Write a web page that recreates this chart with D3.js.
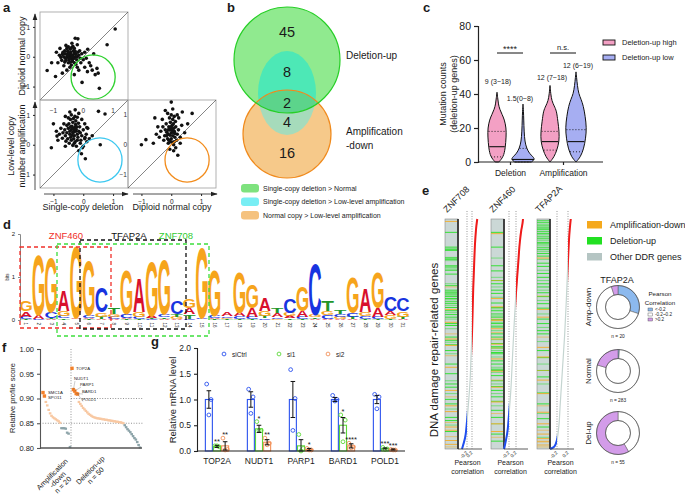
<!DOCTYPE html>
<html><head><meta charset="utf-8">
<script src="https://cdn.jsdelivr.net/npm/d3@7"></script>
<style>body{margin:0;background:#fff}svg{display:block;font-family:"Liberation Sans",Arial,Helvetica,sans-serif}</style>
</head><body><svg id="c" width="685" height="495"></svg>
<script>
// ================= DATA =================
// panel a: scatter clouds [x, y]
const aDelNormal=[[-0.45,0.02],[-0.5,0.08],[-0.4,-0.03],[-0.35,0.05],[-0.55,-0.02],[-0.6,0.1],[-0.3,0.12],[-0.42,0.15],[-0.48,-0.1],[-0.38,-0.08],[-0.52,0.18],[-0.28,-0.02],[-0.65,0.0],[-0.33,0.2],[-0.44,0.25],[-0.58,-0.12],[-0.25,0.08],[-0.5,-0.2],[-0.36,-0.15],[-0.62,0.2],[-0.7,0.08],[-0.2,0.0],[-0.4,0.3],[-0.55,0.28],[-0.3,-0.2],[-0.46,-0.05],[-0.42,0.07],[-0.37,0.0],[-0.53,0.04],[-0.47,0.12],[-0.32,-0.06],[-0.6,-0.05],[-0.27,0.18],[-0.22,-0.1],[-0.75,-0.02],[-0.68,0.15],[-0.15,0.05],[-0.43,-0.18],[-0.35,0.35],[-0.5,0.33],[-0.18,0.15],[-0.62,-0.18],[-0.72,-0.12],[-0.25,-0.25],[-0.4,-0.28],[-0.1,-0.05],[-0.8,0.05],[-0.12,0.2],[-0.3,0.28],[-0.58,0.38],[-0.05,0.1],[0.0,-0.1],[0.05,0.15],[-0.08,-0.2],[0.1,-0.05],[-0.2,-0.35],[-0.45,-0.35],[-0.65,-0.3],[-0.85,-0.2],[-0.9,0.15],[-0.78,0.28],[-0.2,0.4],[-0.38,0.45],[-0.27,0.62],[-0.18,0.6],[0.15,0.25],[0.2,-0.2],[0.05,-0.35],[-0.15,-0.45],[-0.55,-0.45],[1.07,0.93],[0.8,0.4],[0.46,-0.39],[0.14,-0.5],[0.5,-0.55],[0.3,-0.45],[-0.04,-0.86],[0.54,-1.06],[-1.21,-0.46],[-0.93,-0.66],[-1.06,-0.2],[-0.7,-0.55],[0.25,-0.3],[0.35,0.1],[0.4,-0.6],[-0.3,-0.6]];
const aDelAmp=[[-0.35,0.4],[-0.4,0.5],[-0.3,0.3],[-0.45,0.35],[-0.25,0.45],[-0.5,0.55],[-0.38,0.62],[-0.28,0.58],[-0.55,0.4],[-0.42,0.25],[-0.32,0.2],[-0.2,0.35],[-0.6,0.3],[-0.48,0.7],[-0.35,0.75],[-0.22,0.6],[-0.15,0.45],[-0.62,0.5],[-0.4,0.15],[-0.27,0.1],[-0.52,0.2],[-0.3,0.5],[-0.45,0.45],[-0.37,0.32],[-0.33,0.88],[-0.25,0.8],[-0.18,0.25],[-0.1,0.4],[-0.68,0.4],[-0.55,0.65],[-0.43,0.85],[-0.3,0.05],[-0.2,0.15],[-0.12,0.6],[-0.7,0.22],[-0.58,0.12],[-0.47,0.05],[-0.36,0.55],[-0.26,0.68],[-0.16,0.72],[-0.05,0.3],[-0.08,0.15],[-0.75,0.55],[-0.65,0.7],[-0.28,0.95],[-0.4,1.0],[-0.2,0.92],[-0.5,0.9],[-0.1,0.05],[-0.35,-0.02],[-0.8,0.35],[-0.9,0.45],[-0.85,0.15],[0.0,0.5],[0.05,0.2],[0.1,0.35],[0.15,0.55],[0.05,0.7],[-0.05,0.85],[-0.6,0.95],[-0.27,1.17],[-0.15,1.05],[-0.45,1.1],[-0.03,-0.1],[-0.23,-0.05],[-0.15,-0.2],[0.0,-0.05],[0.12,0.1],[0.2,0.2],[-0.6,-0.05],[-1.07,-0.1],[-0.88,0.29],[0.57,0.0],[0.12,0.58],[0.51,1.12],[0.73,1.03],[0.06,0.24],[-0.06,-0.3],[0.07,-0.47],[0.3,0.3],[-1.0,0.7],[-0.42,0.6],[-0.33,0.42],[-0.24,0.52]];
const aNormAmp=[[0,0.4],[-0.05,0.5],[0.05,0.3],[-0.1,0.35],[0.1,0.45],[-0.08,0.6],[0.03,0.65],[0.12,0.25],[-0.15,0.42],[0.0,0.2],[-0.03,0.75],[0.08,0.55],[-0.12,0.2],[0.15,0.6],[-0.2,0.5],[0.05,0.85],[-0.06,0.9],[0.1,0.1],[-0.1,0.05],[0.2,0.35],[-0.22,0.3],[0.02,0.5],[-0.04,0.32],[0.06,0.42],[-0.17,0.7],[0.14,0.78],[0.0,1.0],[-0.12,1.05],[0.08,0.0],[-0.02,0.1],[0.18,0.15],[-0.25,0.15],[0.24,0.5],[-0.28,0.6],[0.1,0.95],[-0.08,0.15],[0.0,0.6],[-0.1,0.5],[0.07,0.7],[0.12,0.38],[-0.35,0.45],[-0.4,0.25],[0.3,0.25],[0.35,0.65],[-0.3,0.85],[0.2,1.0],[0.25,0.9],[-0.2,1.15],[0.05,1.2],[-0.05,-0.15],[0.15,-0.1],[0.3,0.05],[-0.45,0.6],[-0.5,0.35],[0.0,1.43],[-1.0,0.0],[-0.85,0.17],[0.37,1.1],[0.7,1.05],[0.08,-0.2],[0.22,-0.35],[-0.6,0.05],[0.45,0.4],[-0.55,0.9],[0.55,0.7],[-0.16,0.3],[0.04,0.08],[-0.02,0.55]];
const aCircles=[[0.33,-0.68,0.74],[0.56,-0.51,0.74],[0.53,-0.51,0.74]];
const aTicks=[-1,0,1];
// panel b
const vennCounts=[45,8,2,4,16];
const vennSets=['Deletion-up','Amplification','-down'];
const vennLegend=['Single-copy deletion > Normal','Single-copy deletion > Low-level amplification','Normal copy > Low-level amplification'];
// panel c
const cGroups=['Deletion','Amplification'];
const cSeries=['Deletion-up high','Deletion-up low'];
const cTicks=[0,20,40,60,80];
const violinDelHigh=[[0,0.2],[3,0.7],[8,0.9],[15,1.0],[20,1.0],[25,0.8],[28,0.55],[31,0.3],[34,0.15],[38,0.07],[41,0]];
const violinDelLow=[[0,0.9],[1.5,1.3],[3,1.1],[5,0.7],[8,0.4],[12,0.2],[18,0.12],[25,0.08],[30,0.05],[34,0]];
const violinAmpHigh=[[0,0],[3,0.45],[7,0.75],[12,1.0],[18,1.0],[24,0.85],[30,0.72],[33,0.45],[36,0.2],[40,0.08],[45,0]];
const violinAmpLow=[[0,0],[3,0.5],[8,0.85],[14,1.05],[20,1.15],[27,1.0],[33,0.8],[37,0.55],[40,0.3],[45,0.15],[50,0.06],[53,0]];
const violinMed=[9,1.5,12,12], violinQ1=[3,0,7,6], violinQ3=[18,8,18,19];
const violinNotes=['9 (3~18)','1.5(0~8)','12 (7~18)','12 (6~19)'];
const sigLabels=['****','n.s.'];
// panel d: sequence logo (bits per letter, positions 1..31)
const logoG=[0.25,1.42,1.3,0.12,1.7,1.3,0.1,0.05,1.05,0.12,1.3,1.3,0.05,0.2,1.68,1.08,0.03,0.95,0.55,0.12,0.03,0.08,0.6,0.05,0.1,0.05,0.85,0.1,0.85,0.08,0.12];
const logoA=[0.12,0.08,0.02,0.5,0.02,0.03,0.03,0.03,0.03,0.8,0.05,0.02,0.03,0.15,0.01,0.03,0.1,0.08,0.2,0.3,0.1,0.05,0.15,0.02,0.03,0.03,0.03,0.55,0.2,0.1,0.03];
const logoC=[0.05,0.02,0.15,0.05,0.01,0.06,0.58,0.05,0.1,0.05,0.02,0.07,0.32,0.03,0.03,0.05,0.04,0.06,0.05,0.04,0.04,0.35,0.05,1.2,0.08,0.07,0.08,0.06,0.05,0.35,0.3];
const logoT=[0.03,0.01,0.02,0.04,0.01,0.02,0.05,0.15,0.02,0.02,0.03,0.04,0.06,0.1,0.01,0.02,0.02,0.03,0.02,0.05,0.12,0.04,0.02,0.04,0.25,0.1,0.05,0.03,0.02,0.03,0.05];
const motifNames=['ZNF460','TFAP2A','ZNF708'];
// panel e
const eTFs=['ZNF708','ZNF460','TFAP2A'];
const eNGenes=358;
const eGreen=[
 [20,43,45,47,48,59,60,62,64,72,74,77,79,85,100,103,110,112,114,116,118,120,123,125,128,131,134,137,142,145,148,152,155,162,165,170,183,188,191,195,204,209,225,240,251,256,261,271,280,287,295,308,313,320,330],
 [20,43,60,72,80,90,95,100,105,110,115,121,130,137,139,142,147,150,152,156,160,162,166,173,178,183,187,193,198,204,207,209,214,220,225,230,233,235,238,243,251,256,260,266,271,276,283,290,297,308,318,334,345,168,200],
 [2,5,8,10,13,16,19,22,24,27,30,33,36,38,41,44,47,50,53,57,62,68,73,79,84,90,95,100,105,110,114,120,126,131,138,147,155,162,168,173,178,190,204,215,225,235,245,256,270,287,302,310,323,339,15]];
const eOrange=[
 [3,105,140,160,178,186,196,212,230,266,276,290,299,316,323,328,338,344,350,354],
 [22,95,123,136,155,157,170,176,186,194,200,217,236,250,261,284,302,318,330,339],
 [60,119,140,152,183,199,214,235,250,271,290,300,318,328,334,341,345,346,351,354]];
// correlation curves [rank fraction, Pearson r]
const eCurves=[
 [[0,0.62],[0.03,0.55],[0.1,0.45],[0.2,0.37],[0.3,0.3],[0.4,0.25],[0.5,0.2],[0.6,0.12],[0.7,0.05],[0.8,-0.08],[0.88,-0.2],[0.95,-0.35],[1,-0.6]],
 [[0,0.6],[0.02,0.57],[0.05,0.5],[0.1,0.42],[0.2,0.32],[0.32,0.2],[0.45,0.1],[0.6,0.0],[0.75,-0.1],[0.85,-0.2],[0.93,-0.3],[1,-0.48]],
 [[0,0.3],[0.05,0.26],[0.18,0.2],[0.35,0.14],[0.5,0.08],[0.65,0.0],[0.8,-0.08],[0.92,-0.15],[0.96,-0.2],[0.99,-0.3],[1,-0.45]]];
const eLegend=['Amplification-down','Deletion-up','Other DDR genes'];
const pieGroups=['Amp-down','Normal','Del-up'];
const pieCounts=[[6,13,1],[3,222,58],[0,23,32]]; // <-0.2, -0.2~0.2, >0.2
const pieN=['n = 20','n = 283','n = 55'];
const pieLegend=['<-0.2','-0.2~0.2','>0.2'];
// panel f
const fAmpScores=[0.912,0.905,0.893,0.886,0.877,0.870,0.865,0.862,0.860,0.858,0.856,0.854,0.851,0.840,0.840,0.840,0.839,0.831,0.829,0.802];
const fDelScores=[0.961,0.918,0.915,0.910,0.909,0.893,0.889,0.885,0.881,0.878,0.875,0.872,0.869,0.867,0.865,0.863,0.862,0.861,0.860,0.860,0.859,0.859,0.858,0.858,0.857,0.857,0.856,0.856,0.855,0.855,0.854,0.854,0.853,0.853,0.852,0.852,0.851,0.850,0.846,0.842,0.838,0.835,0.832,0.828,0.824,0.820,0.817,0.812,0.806,0.801];
const fAmpNames=['SMC1A','SPO11'];
const fDelNames=['TOP2A','NUDT1','PARP1','BARD1','POLD1'];
const fTicks=[0.80,0.85,0.90,0.95,1.00];
// panel g
const gGenes=['TOP2A','NUDT1','PARP1','BARD1','POLD1'];
const gSeries=['siCtrl','si1','si2'];
const gMean=[[1.0,0.09,0.1],[1.0,0.43,0.17],[1.0,0.1,0.03],[1.0,0.5,0.1],[1.0,0.05,0.03]];
const gSem=[[0.17,0.02,0.08],[0.15,0.07,0.05],[0.35,0.12,0.02],[0.04,0.15,0.04],[0.08,0.01,0.01]];
const gPts=[[[1.3,1.0,0.7],[0.1,0.08,0.1],[0.25,0.03,0.02]],[[1.2,1.05,0.73],[0.57,0.4,0.4],[0.25,0.15,0.12]],[[1.58,1.02,0.4],[0.32,0.05,0.0],[0.05,0.02,0.02]],[[1.08,1.0,0.97],[0.7,0.6,0.18],[0.15,0.08,0.06]],[[1.1,1.05,0.82],[0.07,0.04,0.03],[0.03,0.02,0.02]]];
const gStars=[['','**','**'],['','*','**'],['','','*'],['','*','****'],['','***','***']];
const gTicks=[0,0.5,1,1.5,2];

// ================= DRAW =================
const svg=d3.select('#c');
const defs=svg.append('defs');
defs.append('marker').attr('id','arr').attr('viewBox','0 0 10 10').attr('refX',9).attr('refY',5)
 .attr('markerWidth',7).attr('markerHeight',7).attr('markerUnits','userSpaceOnUse').attr('orient','auto')
 .append('path').attr('d','M0,1.5L10,5L0,8.5z').attr('fill','#222');
function T(g,x,y,s,fs,o={}){
 const t=g.append('text').attr('x',x).attr('y',y).text(s).attr('font-size',fs).attr('fill',o.fill||'#1a1a1a').attr('text-anchor',o.anchor||'start');
 if(o.fw)t.attr('font-weight',o.fw);
 if(o.rot!=null)t.attr('transform',`rotate(${o.rot},${x},${y})`);
 return t;}
function styleAxis(g,fs){g.attr('font-family',null);g.selectAll('text').attr('font-size',fs).attr('fill','#1a1a1a');g.selectAll('line,path').attr('stroke','#222');}
[['a',3,12],['b',227,12],['c',423,12],['d',3,229],['e',422,195],['f',2,352],['g',151,346]].forEach(d=>T(svg,d[1],d[2],d[0],13,{fw:'bold'}));

// ---- panel a ----
(function(){
 const dom=[-1.45,1.5],W=88;
 const cfg=[{pts:aDelNormal,x0:40,y0:12,col:'#2fd12f'},{pts:aDelAmp,x0:40,y0:100,col:'#3cc8f0'},{pts:aNormAmp,x0:128,y0:100,col:'#f28c1c'}];
 const sc=cfg.map(p=>({x:d3.scaleLinear().domain(dom).range([p.x0,p.x0+W]),y:d3.scaleLinear().domain(dom).range([p.y0+W,p.y0])}));
 cfg.forEach((p,i)=>{
  const {x,y}=sc[i];const g=svg.append('g');
  g.append('rect').attr('x',p.x0).attr('y',p.y0).attr('width',W).attr('height',W).attr('fill','none').attr('stroke','#a8a8a8').attr('stroke-width',0.9);
  g.append('line').attr('x1',x(dom[0])).attr('y1',y(dom[0])).attr('x2',x(dom[1])).attr('y2',y(dom[1])).attr('stroke','#333').attr('stroke-width',0.6);
  g.selectAll('circle.p').data(p.pts).join('circle').attr('cx',d=>x(d[0])).attr('cy',d=>y(d[1])).attr('r',1.8).attr('fill','#111');
  const c=aCircles[i];
  g.append('circle').attr('cx',x(c[0])).attr('cy',y(c[1])).attr('r',x(c[0]+c[2])-x(c[0])).attr('fill','none').attr('stroke',p.col).attr('stroke-width',1.3);
 });
 [[0,100,14],[1,190,102]].forEach(([i,yb,yt])=>{
  const g=svg.append('g').attr('transform','translate(35,0)').call(d3.axisLeft(sc[i].y).tickValues(aTicks).tickSize(2).tickFormat(d3.format('d')));
  g.select('.domain').remove();styleAxis(g,6.5);
  svg.append('line').attr('x1',35).attr('x2',35).attr('y1',yb).attr('y2',yt).attr('stroke','#222').attr('stroke-width',0.8).attr('marker-end','url(#arr)');
 });
 [[1,44,128],[2,133,217]].forEach(([i,xl,xr])=>{
  const g=svg.append('g').attr('transform','translate(0,194)').call(d3.axisBottom(sc[i].x).tickValues(aTicks).tickSize(2).tickFormat(d3.format('d')));
  g.select('.domain').remove();styleAxis(g,6.5);
  svg.append('line').attr('x1',xl).attr('x2',xr).attr('y1',194).attr('y2',194).attr('stroke','#222').attr('stroke-width',0.8).attr('marker-end','url(#arr)');
 });
 aTicks.forEach(v=>{T(svg,sc[0].x(v),113,d3.format('d')(v),6.5,{anchor:'middle',fill:'#333'});
  T(svg,127,sc[2].y(v)+2.3,d3.format('d')(v),6.5,{anchor:'end',fill:'#333'});});
 T(svg,83,210,'Single-copy deletion',9,{anchor:'middle'});
 T(svg,172,210,'Diploid normal copy',9,{anchor:'middle'});
 T(svg,25,56,'Diploid normal copy',9,{anchor:'middle',rot:-90});
 T(svg,14,146,'Low-level copy',9,{anchor:'middle',rot:-90});
 T(svg,25,146,'number amplification',9,{anchor:'middle',rot:-90});
})();

// ---- panel b ----
(function(){
 const g=svg.append('g');
 const G={cx:287,cy:60,r:53},O={cx:287,cy:134,r:44},E={cx:287,cy:93,rx:29,ry:42};
 defs.append('clipPath').attr('id','clipG').append('circle').attr('cx',G.cx).attr('cy',G.cy).attr('r',G.r);
 defs.append('clipPath').attr('id','clipO').append('circle').attr('cx',O.cx).attr('cy',O.cy).attr('r',O.r);
 g.append('circle').attr('cx',G.cx).attr('cy',G.cy).attr('r',G.r).attr('fill','#90ea8f');
 g.append('circle').attr('cx',O.cx).attr('cy',O.cy).attr('r',O.r).attr('fill','#f6c98a');
 g.append('g').attr('clip-path','url(#clipG)').append('circle').attr('cx',O.cx).attr('cy',O.cy).attr('r',O.r).attr('fill','#64d38c');
 const ell=(fill,clip)=>g.append('g').attr('clip-path',clip).append('ellipse').attr('cx',E.cx).attr('cy',E.cy).attr('rx',E.rx).attr('ry',E.ry).attr('fill',fill);
 ell('#4de8b6','url(#clipG)');ell('#a6dbbb','url(#clipO)');
 g.append('g').attr('clip-path','url(#clipG)').append('g').attr('clip-path','url(#clipO)').append('ellipse').attr('cx',E.cx).attr('cy',E.cy).attr('rx',E.rx).attr('ry',E.ry).attr('fill','#5cd48b');
 g.append('circle').attr('cx',O.cx).attr('cy',O.cy).attr('r',O.r).attr('fill','none').attr('stroke','#f08a1c').attr('stroke-width',1.2);
 g.append('circle').attr('cx',G.cx).attr('cy',G.cy).attr('r',G.r).attr('fill','none').attr('stroke','#26cf26').attr('stroke-width',1.2);
 const ys=[37,77,108,127,158];
 vennCounts.forEach((v,i)=>T(g,287,ys[i],v,14.5,{anchor:'middle'}));
 T(g,346,59,vennSets[0],10);T(g,346,135,vennSets[1],10);T(g,346,149,vennSets[2],10);
 const lc=['#7ee27e','#78eef4','#f5c27e'];
 vennLegend.forEach((s,i)=>{const y=184+i*13.5;
  g.append('rect').attr('x',241).attr('y',y).attr('width',18).attr('height',8.5).attr('rx',3).attr('fill',lc[i]);
  T(g,263,y+6.5,s,7);});
})();

// ---- panel c ----
(function(){
 const g=svg.append('g');
 const y=d3.scaleLinear().domain([0,80]).range([162,26]);
 const gx=d3.scalePoint().domain(cGroups).range([510,563]);
 const cols=['#f3a0c4','#a6aef2'];
 const prof=[violinDelHigh,violinDelLow,violinAmpHigh,violinAmpLow];
 const xs=[gx('Deletion')-13,gx('Deletion')+13,gx('Amplification')-13,gx('Amplification')+13];
 const HW=9.2;
 const area=d3.area().y(d=>y(d[0])).curve(d3.curveBasis);
 function hw(p,v){for(let i=1;i<p.length;i++){if(v<=p[i][0]){const t=(v-p[i-1][0])/(p[i][0]-p[i-1][0]);return p[i-1][1]+t*(p[i][1]-p[i-1][1]);}}return 0;}
 prof.forEach((p,i)=>{const cx=xs[i];
  g.append('path').datum(p).attr('d',area.x0(d=>cx-HW*d[1]).x1(d=>cx+HW*d[1])).attr('fill',cols[i%2]).attr('stroke','#111').attr('stroke-width',1);
  const ln=(v,dash,w)=>{const h=hw(p,v)*HW*0.92;g.append('line').attr('x1',cx-h).attr('x2',cx+h).attr('y1',y(v)).attr('y2',y(v)).attr('stroke','#111').attr('stroke-width',w).attr('stroke-dasharray',dash);};
  ln(violinMed[i],null,1.1);ln(violinQ1[i],'1,2',0.9);ln(violinQ3[i],'1,2',0.9);
 });
 const ax=g.append('g').attr('transform','translate(478,0)').call(d3.axisLeft(y).tickValues(cTicks).tickSize(4));
 styleAxis(ax,10.5);ax.selectAll('line,path').attr('stroke-width',1.2);
 const bx=g.append('g').attr('transform','translate(0,162)').call(d3.axisBottom(gx).tickSize(3));
 styleAxis(bx,8.5);bx.select('.domain').attr('d','M478,0H603');bx.selectAll('line,path').attr('stroke-width',1.2);bx.selectAll('text').attr('dy','0.95em');
 T(g,446,94,'Mutation counts',9,{anchor:'middle',rot:-90});
 T(g,457,94,'(deletion-up genes)',9,{anchor:'middle',rot:-90});
 const ny=[84,101,80,68];const nx=[xs[0]+1,xs[1]-3,xs[2]+2,xs[3]+2];
 violinNotes.forEach((s,i)=>T(g,nx[i],ny[i],s,7,{anchor:'middle'}));
 [[0,1],[2,3]].forEach((pr,k)=>{g.append('line').attr('x1',xs[pr[0]]).attr('x2',xs[pr[1]]).attr('y1',53).attr('y2',53).attr('stroke','#111').attr('stroke-width',1);
  T(g,(xs[pr[0]]+xs[pr[1]])/2,k?50:52,sigLabels[k],k?7.5:9,{anchor:'middle'});});
 cSeries.forEach((s,i)=>{const yy=40+i*15;
  g.append('rect').attr('x',603).attr('y',yy).attr('width',12).attr('height',5).attr('fill',cols[i]).attr('stroke','#111').attr('stroke-width',0.9);
  T(g,622,yy+5,s,7.5);});
})();

// ---- panel d ----
(function(){
 const g=svg.append('g');
 const x=d3.scaleLinear().domain([1,31]).range([26,403]);
 const y=d3.scaleLinear().domain([0,2]).range([320,234]);
 const col={A:'#d8102c',C:'#1834e0',G:'#f6a41c',T:'#22962a'};
 const gw={A:0.72,C:0.66,G:0.70,T:0.60};
 const L={A:logoA,C:logoC,G:logoG,T:logoT};
 const W=12.2;
 for(let p=0;p<31;p++){
  const st=['A','C','G','T'].map(k=>({k,v:L[k][p]})).sort((a,b)=>a.v-b.v);
  let base=0;
  st.forEach(s=>{const h=y(base)-y(base+s.v);
   if(h>0.8){g.append('text').attr('text-anchor','middle').attr('font-size',100).attr('font-weight','bold').attr('fill',col[s.k])
    .attr('transform',`translate(${x(p+1)},${y(base)}) scale(${W/(gw[s.k]*100)},${h/72})`).text(s.k);}
   base+=s.v;});
  T(g,x(p+1)-1.6,322.5,String(p+1),4.5,{anchor:'start',rot:90});
 }
 const ax=g.append('g').attr('transform','translate(20,0)').call(d3.axisLeft(y).tickValues([0,1,2]).tickSize(2).tickFormat(d3.format('d')));
 styleAxis(ax,6);ax.selectAll('line,path').attr('stroke','#888');
 T(g,9,277,'bits',4.5,{anchor:'middle',rot:-90});
 const cols=['#f0302a','#111','#3cde3c'];
 const boxes=[[20,247,111,328],[80,240,186,329],[57,244,209,336]];
 boxes.forEach((b,i)=>g.append('rect').attr('x',b[0]).attr('y',b[1]).attr('width',b[2]-b[0]).attr('height',b[3]-b[1]).attr('fill','none').attr('stroke',cols[i]).attr('stroke-width',1.3).attr('stroke-dasharray','4,3'));
 const lx=[66,129,176];
 motifNames.forEach((s,i)=>T(g,lx[i],239,s,9.5,{anchor:'middle',fill:i===2?'#33cc33':cols[i]}));
})();

// ---- panel e ----
(function(){
 const g=svg.append('g');
 const yTop=219,yBot=449;
 const ry=d3.scaleLinear().domain([0,eNGenes]).range([yTop,yBot]);
 const fy=d3.scaleLinear().domain([0,1]).range([yTop,yBot]);
 const colX=[445,491,537];const neg=[467,509,557],pos=[472,516,568];
 eTFs.forEach((tf,i)=>{
  const x0=colX[i],w=13;
  g.append('rect').attr('x',x0).attr('y',yTop).attr('width',w).attr('height',yBot-yTop).attr('fill','#cbd8d6').attr('stroke','#888').attr('stroke-width',0.6);
  g.selectAll(null).data(eGreen[i]).join('rect').attr('x',x0).attr('y',d=>ry(d)).attr('width',w).attr('height',1.0).attr('fill','#27e027').attr('opacity',(d,k)=>k%3===2?0.5:0.9);
  g.selectAll(null).data(eOrange[i]).join('rect').attr('x',x0).attr('y',d=>ry(d)).attr('width',w).attr('height',1.0).attr('fill','#f2ad2c').attr('opacity',(d,k)=>k%3===1?0.55:0.9);
  g.append('line').attr('x1',x0+w).attr('x2',x0+w).attr('y1',yTop).attr('y2',yBot).attr('stroke','#333').attr('stroke-width',1.8);
  const cx=d3.scaleLinear().domain([-0.2,0.2]).range([neg[i],pos[i]]);
  [neg[i],pos[i]].forEach(xx=>g.append('line').attr('x1',xx).attr('x2',xx).attr('y1',yTop-8).attr('y2',yBot).attr('stroke','#555').attr('stroke-width',0.6).attr('stroke-dasharray','1,1.5'));
  const line=d3.line().x(d=>cx(d[1])).y(d=>fy(d[0])).curve(d3.curveMonotoneY);
  g.append('path').datum(eCurves[i]).attr('d',line).attr('fill','none').attr('stroke','#c5d5d1').attr('stroke-width',1.2);
  defs.append('clipPath').attr('id','cr'+i).append('rect').attr('x',pos[i]).attr('y',yTop-5).attr('width',40).attr('height',240);
  defs.append('clipPath').attr('id','cb'+i).append('rect').attr('x',neg[i]-40).attr('y',yTop-5).attr('width',40).attr('height',240);
  g.append('path').datum(eCurves[i]).attr('d',line).attr('fill','none').attr('stroke','#f01a1a').attr('stroke-width',2).attr('clip-path',`url(#cr${i})`);
  g.append('path').datum(eCurves[i]).attr('d',line).attr('fill','none').attr('stroke','#1f4ef0').attr('stroke-width',2).attr('clip-path',`url(#cb${i})`);
  g.append('line').attr('x1',x0+w).attr('x2',x0+w+24).attr('y1',yBot).attr('y2',yBot).attr('stroke','#333').attr('stroke-width',0.8);
  T(g,neg[i]+1,yBot+4,'-0.2',4.8,{anchor:'end',rot:-45});
  T(g,pos[i]+1,yBot+4,'0.2',4.8,{anchor:'end',rot:-45});
  const mx=(neg[i]+pos[i])/2-2;
  T(g,mx,465,'Pearson',7,{anchor:'middle'});T(g,mx,474,'correlation',7,{anchor:'middle'});
  T(g,x0+2,213,tf,9,{rot:-45});
 });
 T(g,438,350,'DNA damage repair-related genes',11.5,{anchor:'middle',rot:-90});
 const lc=['#f5a91d','#22e022','#b5c5c3'];
 eLegend.forEach((s,i)=>{const yy=221+i*16;g.append('rect').attr('x',587).attr('y',yy).attr('width',15).attr('height',7.5).attr('fill',lc[i]);T(g,610,yy+7,s,9);});
 T(g,617,283,'TFAP2A',9,{anchor:'middle'});
 const pc=['#8cb9ee','#ffffff','#d39ce9'];
 const pie=d3.pie().sort(null).value(d=>d);
 const arc=d3.arc().innerRadius(12.5).outerRadius(21.5);
 const pyc=[307,371,433];
 pieCounts.forEach((cnt,i)=>{
  const pg=g.append('g').attr('transform',`translate(618,${pyc[i]})`);
  pg.selectAll('path').data(pie(cnt)).join('path').attr('d',arc).attr('fill',(d,j)=>pc[j]).attr('stroke','#555').attr('stroke-width',0.5);
  pg.append('circle').attr('r',21.5).attr('fill','none').attr('stroke','#444').attr('stroke-width',0.6);
  pg.append('circle').attr('r',12.5).attr('fill','none').attr('stroke','#444').attr('stroke-width',0.6);
  T(g,591,pyc[i],pieGroups[i],8,{anchor:'middle',rot:-90});
  T(g,618,pyc[i]+31,pieN[i],4.8,{anchor:'middle'});
 });
 T(g,660,296,'Pearson',6.2,{anchor:'middle'});T(g,660,305,'Correlation',6.2,{anchor:'middle'});
 pieLegend.forEach((s,i)=>{const yy=308+i*5;g.append('rect').attr('x',648).attr('y',yy).attr('width',4.5).attr('height',3).attr('fill',pc[i]).attr('stroke','#444').attr('stroke-width',0.4);T(g,655,yy+3,s,4.6);});
})();

// ---- panel f ----
(function(){
 const g=svg.append('g');
 const y=d3.scaleLinear().domain([0.8,1.0]).range([448,349]);
 const xa=d3.scaleLinear().domain([0,fAmpScores.length-1]).range([43,70]);
 const xd=d3.scaleLinear().domain([0,fDelScores.length-1]).range([72,140]);
 g.append('line').attr('x1',71).attr('x2',71).attr('y1',349).attr('y2',448).attr('stroke','#666').attr('stroke-width',0.7).attr('stroke-dasharray','1,1.6');
 g.append('line').attr('x1',71).attr('x2',143).attr('y1',y(0.9)).attr('y2',y(0.9)).attr('stroke','#666').attr('stroke-width',0.7).attr('stroke-dasharray','1,1.6');
 g.append('line').attr('x1',40).attr('x2',143).attr('y1',y(0.85)).attr('y2',y(0.85)).attr('stroke','#666').attr('stroke-width',0.7).attr('stroke-dasharray','1,1.6');
 const colr=(v,i,nh)=>i<nh?'#f3802a':(v>=0.85?'#f8c8a2':'#8da4a9');
 function pts(arr,x,nh){g.selectAll(null).data(arr).join('rect').attr('x',(d,i)=>x(i)-(i<nh?1.7:1.3)).attr('y',(d,i)=>y(d)-(i<nh?1.7:1.1))
  .attr('width',(d,i)=>i<nh?3.4:2.6).attr('height',(d,i)=>i<nh?3.4:2.2).attr('fill',(d,i)=>colr(d,i,nh));}
 pts(fAmpScores,xa,2);pts(fDelScores,xd,5);
 const ax=g.append('g').attr('transform','translate(40,0)').call(d3.axisLeft(y).tickValues(fTicks).tickSize(3).tickFormat(d3.format('.2f')));
 styleAxis(ax,7.5);ax.selectAll('line,path').attr('stroke','#555').attr('stroke-width',1.1);
 g.append('line').attr('x1',40).attr('x2',142).attr('y1',448).attr('y2',448).attr('stroke','#555').attr('stroke-width',1.3);
 T(g,15,398,'Relative profile score',7.5,{anchor:'middle',rot:-90});
 T(g,48,y(fAmpScores[0])+1.5,fAmpNames[0],4.3);T(g,48,y(fAmpScores[1])+2.5,fAmpNames[1],4.3);
 const lp=[[76,y(0.961)+1.5],[74,380],[80,386],[82,393],[82,400.5]];
 fDelNames.forEach((s,i)=>{T(g,lp[i][0],lp[i][1],s,4.3);
  if(i>0)g.append('line').attr('x1',xd(i)).attr('y1',y(fDelScores[i])).attr('x2',lp[i][0]+1).attr('y2',lp[i][1]+1).attr('stroke','#555').attr('stroke-width',0.3);});
 const t1=g.append('text').attr('transform','translate(54,476) rotate(-45)').attr('font-size',7.2).attr('text-anchor','middle').attr('fill','#1a1a1a');
 ['Amplification','-down','n = 20'].forEach((s,i)=>t1.append('tspan').attr('x',0).attr('dy',i?7.5:0).text(s));
 const t2=g.append('text').attr('transform','translate(92,472) rotate(-45)').attr('font-size',7.2).attr('text-anchor','middle').attr('fill','#1a1a1a');
 ['Deletion-up','n = 50'].forEach((s,i)=>t2.append('tspan').attr('x',0).attr('dy',i?7.5:0).text(s));
})();

// ---- panel g ----
(function(){
 const g=svg.append('g');
 const y=d3.scaleLinear().domain([0,2]).range([451,348]);
 const x0=d3.scaleBand().domain(gGenes).range([196,406]).padding(0);
 const x1=d3.scaleBand().domain(gSeries).range([-12,12]).paddingInner(0.05);
 const cols=['#2b52ee','#5ed83a','#f2915a'];
 gGenes.forEach((gn,gi)=>{
  gSeries.forEach((s,si)=>{
   const cx=x0(gn)+x0.bandwidth()/2+x1(s)+x1.bandwidth()/2, bw=7, m=gMean[gi][si], e=gSem[gi][si];
   g.append('rect').attr('x',cx-bw/2).attr('y',y(m)).attr('width',bw).attr('height',y(0)-y(m)).attr('fill','#fff').attr('stroke',cols[si]).attr('stroke-width',1.1);
   const off=[-2.2,2.2,0];
   gPts[gi][si].forEach((v,k)=>g.append('circle').attr('cx',cx+off[k]).attr('cy',y(v)).attr('r',1.9).attr('fill','none').attr('stroke',cols[si]).attr('stroke-width',0.9));
   g.append('line').attr('x1',cx).attr('x2',cx).attr('y1',y(Math.max(0,m-e))).attr('y2',y(m+e)).attr('stroke','#111').attr('stroke-width',1);
   [m-e,m+e].forEach(v=>g.append('line').attr('x1',cx-2.3).attr('x2',cx+2.3).attr('y1',y(Math.max(0,v))).attr('y2',y(Math.max(0,v))).attr('stroke','#111').attr('stroke-width',1));
   if(gStars[gi][si]){const top=Math.max(m+e,d3.max(gPts[gi][si]));T(g,cx,y(top+0.08)+3,gStars[gi][si],7.5,{anchor:'middle'});}
  });
 });
 const ax=g.append('g').attr('transform','translate(197,0)').call(d3.axisLeft(y).tickValues(gTicks).tickSize(3).tickFormat(d3.format('.1f')));
 styleAxis(ax,8.5);ax.selectAll('line,path').attr('stroke-width',1.1);
 const bx=g.append('g').attr('transform','translate(0,451)').call(d3.axisBottom(x0).tickSize(0));
 styleAxis(bx,8.5);bx.select('.domain').attr('d','M197,0H405').attr('stroke-width',1.1);bx.selectAll('text').attr('dy','1.15em');
 T(g,176,400,'Relative mRNA level',9.5,{anchor:'middle',rot:-90});
 const lx=[224,279,328];
 gSeries.forEach((s,i)=>{g.append('circle').attr('cx',lx[i]).attr('cy',354).attr('r',1.9).attr('fill','none').attr('stroke',cols[i]).attr('stroke-width',0.9);T(g,lx[i]+8,356.5,s,6.5);});
})();
</script></body></html>
